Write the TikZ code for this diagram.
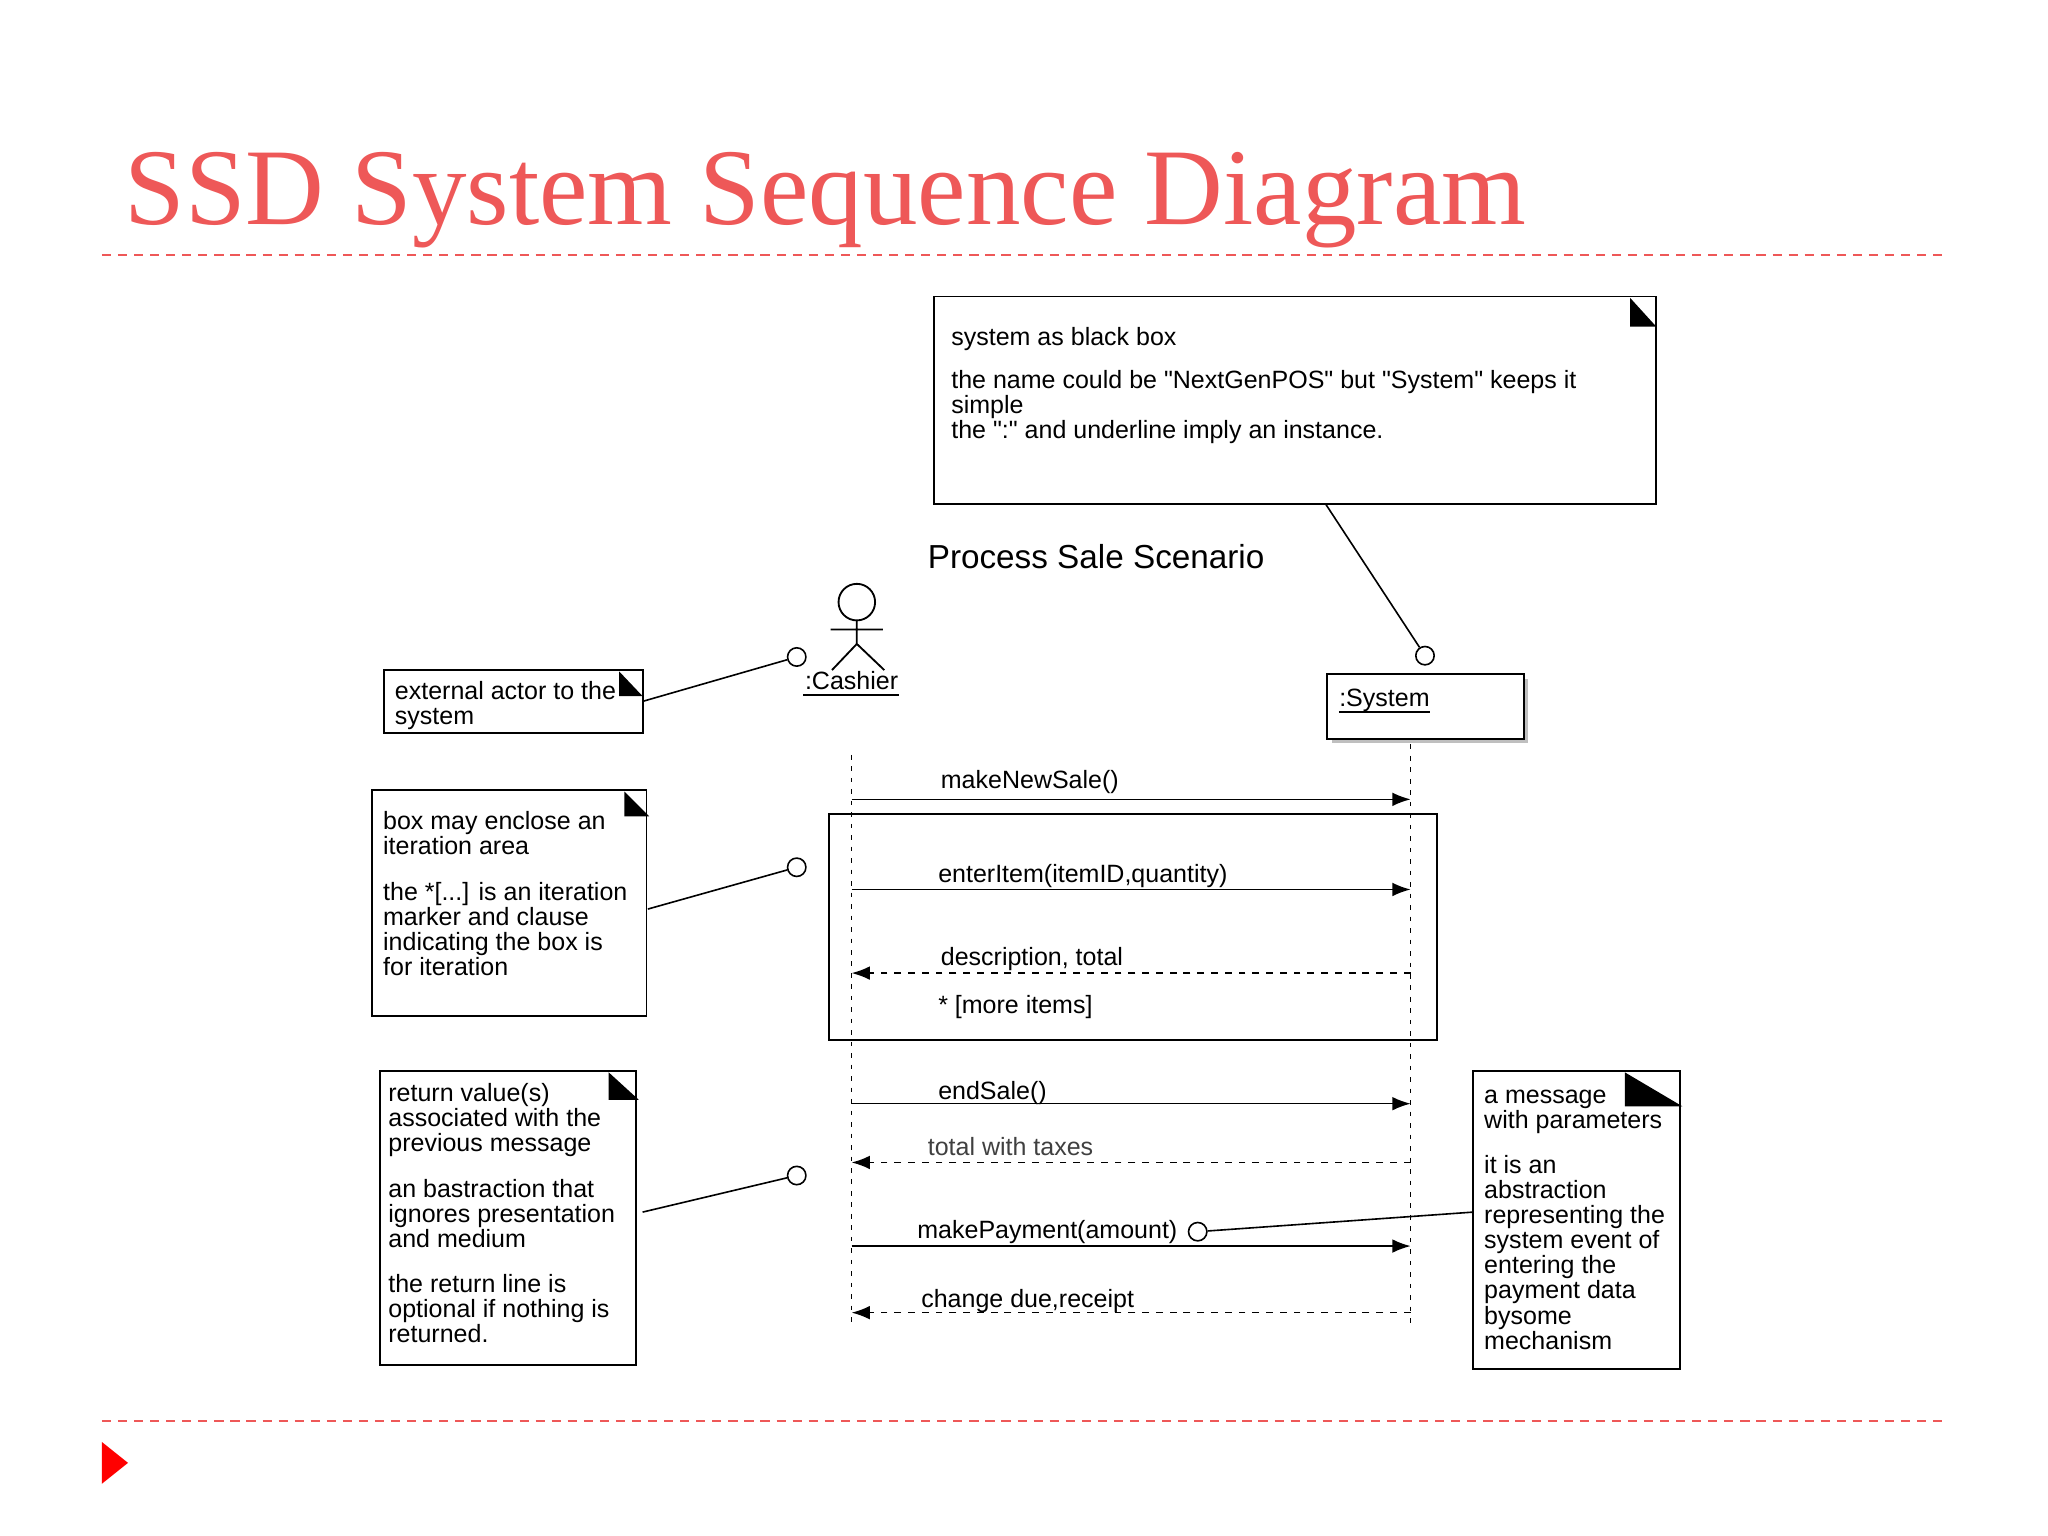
\documentclass[tikz,border=0pt]{standalone}
\usepackage{fontspec}
\setmainfont{Liberation Sans}[Ligatures=TeXOff]
\newfontfamily\titlefont{Liberation Serif}
\usetikzlibrary{arrows.meta}
\definecolor{ttl}{RGB}{238,88,88}
\begin{document}
\begin{tikzpicture}[x=0.02cm,y=-0.02cm,
  txt/.style={inner sep=0,font=\fontsize{10.9}{10.9}\selectfont,align=left},
  note/.style={draw,line width=0.8pt},
  msg/.style={-{Latex[length=8pt,width=6pt]},line width=0.7pt},
  ret/.style={-{Latex[length=8pt,width=6pt]},line width=0.7pt,dash pattern=on 3pt off 3pt},
  life/.style={line width=0.7pt,dash pattern=on 2pt off 3pt},
  sep/.style={ttl,line width=0.8pt,dash pattern=on 4pt off 3pt},
  ear/.style={fill=black},
  pin/.style={draw,line width=0.7pt,fill=white,circle,minimum size=8pt,inner sep=0}]
\useasboundingbox (0,0) rectangle (1568,1176);
% title
\node[anchor=base west,inner sep=0,text=ttl,font=\titlefont\fontsize{47.5}{50}\selectfont] (title) at (95,172) {SSD System Sequence Diagram};
\draw[sep] (78,195) -- (1490,195);
\draw[sep] (78,1088) -- (1490,1088);
\fill[red] (78,1104) -- (98,1120) -- (78,1136) -- cycle;
% top note
\draw[note] (715,227) rectangle (1268,386);
\fill[ear] (1248,228) -- (1268,250) -- (1248,250) -- cycle;
\node[txt,anchor=north west] (n1) at (728,250) {system as black box\\[8pt]the name could be "NextGenPOS" but "System" keeps it\\simple\\the ":" and underline imply an instance.};
\node[pin] (c1) at (1091,502) {};
\coordinate (n1p) at (1015,386);
\draw[line width=0.7pt] (n1p) -- (c1);
\node[anchor=base west,inner sep=0,font=\fontsize{14.5}{16}\selectfont] (pss) at (710,435) {Process Sale Scenario};
% actor
\draw[line width=0.8pt] (656,461) circle (14);
\draw[line width=0.8pt] (656,475) -- (656,493) (636,482) -- (676,482) (637,513) -- (656,493) -- (677,513);
\node[anchor=base,inner sep=0,font=\fontsize{10.9}{11}\selectfont] (cash) at (652,528) {:Cashier};
\draw[line width=0.6pt] (615,532) -- (688,532);
% system
\fill[gray!50] (1020,520) rectangle (1170,569);
\draw[note,fill=white] (1016,516) rectangle (1167,566);
\node[anchor=base west,inner sep=0,font=\fontsize{10.9}{11}\selectfont] (sys) at (1025,541) {:System};
\draw[line width=0.6pt] (1025,545) -- (1095,545);
% lifelines
\coordinate (la) at (652,578); \coordinate (lae) at (652,1015);
\coordinate (lb) at (1080,570); \coordinate (lbe) at (1080,1015);
\draw[life] (la) -- (lae);
\draw[life] (lb) -- (lbe);
% messages
\draw[msg] (652,612) -- (1080,612);
\node[txt,anchor=base west] (m1) at (720,604) {makeNewSale()};
\draw[note] (635,623) rectangle (1100,796);
\draw[msg] (652,681) -- (1080,681);
\node[txt,anchor=base west] (m2) at (718,676) {enterItem(itemID,quantity)};
\draw[ret] (1080,745) -- (652,745);
\node[txt,anchor=base west] (m3) at (720,739) {description, total};
\node[txt,anchor=base west] (m4) at (718,776) {* [more items]};
\draw[msg] (652,845) -- (1080,845);
\node[txt,anchor=base west] (m5) at (718,842) {endSale()};
\draw[ret] (1080,890) -- (652,890);
\node[txt,anchor=base west,text=black!75] (m6) at (710,885) {total with taxes};
\draw[msg] (652,954) -- (1080,954);
\node[txt,anchor=base west] (m7) at (702,948) {makePayment(amount)};
\draw[ret] (1080,1005) -- (652,1005);
\node[txt,anchor=base west] (m8) at (705,1001) {change due,receipt};
% external actor note
\draw[note] (294,513) rectangle (492,561);
\fill[ear] (474,514) -- (492,533) -- (474,533) -- cycle;
\node[txt,anchor=north west] (n2) at (302,521) {external actor to the\\system};
\node[pin] (c2) at (610,503) {};
\coordinate (n2p) at (492,537);
\draw[line width=0.7pt] (n2p) -- (c2);
% iteration note
\draw[note] (285,605) rectangle (495,778);
\fill[ear] (478,606) -- (497,625) -- (478,625) -- cycle;
\node[txt,anchor=north west] (n3) at (293,621) {box may enclose an\\iteration area\\[9pt]the *[...] is an iteration\\marker and clause\\indicating the box is\\for iteration};
\node[pin] (c3) at (610,664) {};
\coordinate (n3p) at (496,696);
\draw[line width=0.7pt] (n3p) -- (c3);
% return note
\draw[note] (291,820) rectangle (487,1045);
\fill[ear] (466,821) -- (489,842) -- (466,842) -- cycle;
\node[txt,anchor=north west] (n4) at (297,829) {return value(s)\\associated with the\\previous message\\[9pt]an bastraction that\\ignores presentation\\and medium\\[9pt]the return line is\\optional if nothing is\\returned.};
\node[pin] (c4) at (610,900) {};
\coordinate (n4p) at (492,928);
\draw[line width=0.7pt] (n4p) -- (c4);
% parameter note
\draw[note] (1128,820) rectangle (1286,1048);
\fill[ear] (1244,821) -- (1288,847) -- (1244,847) -- cycle;
\node[txt,anchor=north west] (n5) at (1136,834) {a message\\with parameters\\[9pt]it is an\\abstraction\\representing the\\system event of\\entering the\\payment data\\bysome\\mechanism};
\node[pin] (c5) at (917,943) {};
\coordinate (n5p) at (1128,928);
\draw[line width=0.7pt] (n5p) -- (c5);
\end{tikzpicture}
\end{document}
